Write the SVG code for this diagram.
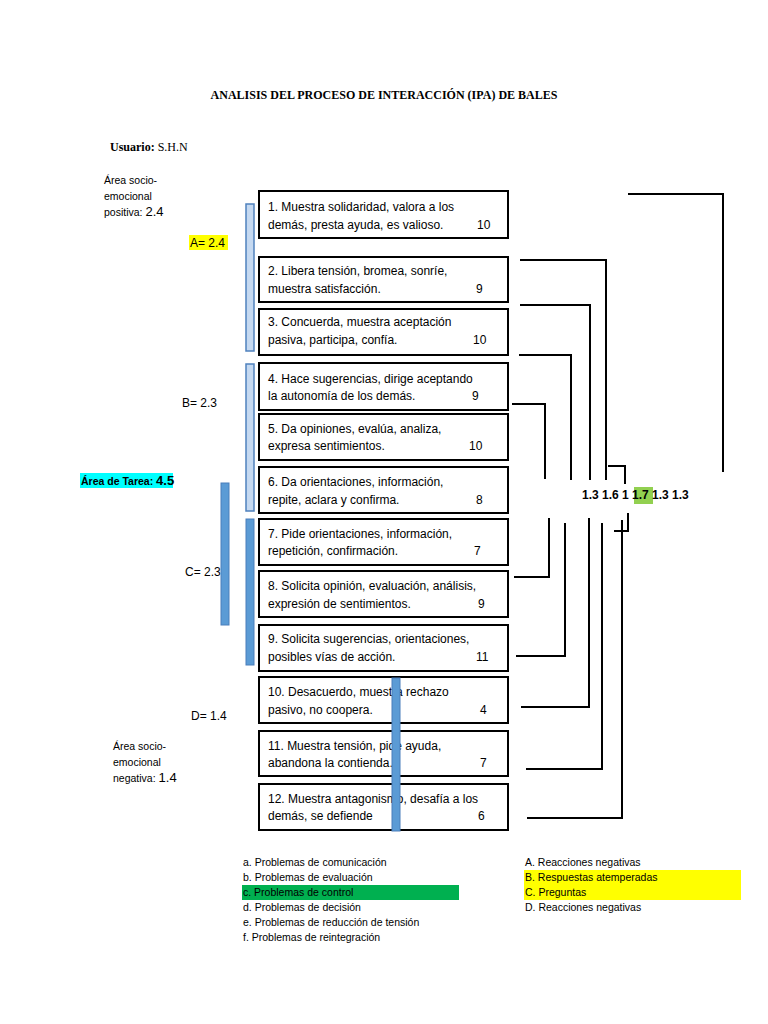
<svg xmlns="http://www.w3.org/2000/svg" width="768" height="1024" viewBox="0 0 768 1024">
<style>
text{font-family:"Liberation Sans",Arial,sans-serif;font-size:12px;fill:#000}
.t{font-family:"Liberation Serif","Times New Roman",serif}
.box{fill:#fff;stroke:#000;stroke-width:2}
.c{fill:none;stroke:#000;stroke-width:2}
.lb{fill:#c5d9f1;stroke:#4f81bd;stroke-width:1.5}
.db{fill:#5b9bd5;stroke:#4a7ebb;stroke-width:1}
.s{font-size:10.5px}
</style>
<rect width="768" height="1024" fill="#fff"/>
<text class="t" x="384" y="99" text-anchor="middle" font-size="14" font-weight="bold">ANALISIS DEL PROCESO DE INTERACCIÓN (IPA) DE BALES</text>
<text class="t" x="110" y="151" font-size="14"><tspan font-weight="bold">Usuario: </tspan>S.H.N</text>
<g id="left-labels">
<text class="s" x="104" y="184">Área socio-</text>
<text class="s" x="104" y="200">emocional</text>
<text class="s" x="104" y="216">positiva: <tspan font-size="13">2.4</tspan></text>
<rect x="189" y="235" width="39" height="15" fill="#ffff00"/>
<text x="190" y="247">A= 2.4</text>
<text x="182" y="407">B= 2.3</text>
<rect x="80" y="473" width="93" height="15" fill="#00ffff"/>
<text class="s" x="81" y="485" font-weight="bold">Área de Tarea: <tspan font-size="13">4.5</tspan></text>
<text x="185" y="576">C= 2.3</text>
<text x="191" y="720">D= 1.4</text>
<text class="s" x="113" y="750">Área socio-</text>
<text class="s" x="113" y="766">emocional</text>
<text class="s" x="113" y="782">negativa: <tspan font-size="13">1.4</tspan></text>
</g>
<g id="bars">
<rect class="lb" x="246" y="204" width="8" height="147"/>
<rect class="lb" x="246" y="364" width="8" height="147"/>
<rect class="db" x="221" y="483" width="8" height="142"/>
<rect class="db" x="246" y="519" width="8" height="146"/>
</g>
<g id="n1"><rect class="box" x="259" y="191" width="249" height="47"/><text x="268" y="211">1. Muestra solidaridad, valora a los</text><text x="268" y="229">demás, presta ayuda, es valioso.</text><text x="477" y="229">10</text></g>
<g id="n2"><rect class="box" x="259" y="257" width="249" height="45"/><text x="268" y="275">2. Libera tensión, bromea, sonríe,</text><text x="268" y="293">muestra satisfacción.</text><text x="476" y="293">9</text></g>
<g id="n3"><rect class="box" x="259" y="309" width="249" height="46"/><text x="268" y="326">3. Concuerda, muestra aceptación</text><text x="268" y="344">pasiva, participa, confía.</text><text x="473" y="344">10</text></g>
<g id="n4"><rect class="box" x="259" y="363" width="249" height="47"/><text x="268" y="383">4. Hace sugerencias, dirige aceptando</text><text x="268" y="400">la autonomía de los demás.</text><text x="472" y="400">9</text></g>
<g id="n5"><rect class="box" x="259" y="414" width="249" height="46"/><text x="268" y="433">5. Da opiniones, evalúa, analiza,</text><text x="268" y="450">expresa sentimientos.</text><text x="469" y="450">10</text></g>
<g id="n6"><rect class="box" x="259" y="467" width="249" height="46"/><text x="268" y="486">6. Da orientaciones, información,</text><text x="268" y="504">repite, aclara y confirma.</text><text x="476" y="504">8</text></g>
<g id="n7"><rect class="box" x="259" y="519" width="249" height="46"/><text x="268" y="538">7. Pide orientaciones, información,</text><text x="268" y="555">repetición, confirmación.</text><text x="474" y="555">7</text></g>
<g id="n8"><rect class="box" x="259" y="571" width="249" height="46"/><text x="268" y="590">8. Solicita opinión, evaluación, análisis,</text><text x="268" y="608">expresión de sentimientos.</text><text x="478" y="608">9</text></g>
<g id="n9"><rect class="box" x="259" y="625" width="249" height="46"/><text x="268" y="643">9. Solicita sugerencias, orientaciones,</text><text x="268" y="661">posibles vías de acción.</text><text x="476" y="661">11</text></g>
<g id="n10"><rect class="box" x="259" y="677" width="249" height="46"/><text x="268" y="696">10. Desacuerdo, muestra rechazo</text><text x="268" y="714">pasivo, no coopera.</text><text x="480" y="714">4</text></g>
<g id="n11"><rect class="box" x="259" y="731" width="249" height="45"/><text x="268" y="750">11. Muestra tensión, pide ayuda,</text><text x="268" y="767">abandona la contienda.</text><text x="480" y="767">7</text></g>
<g id="n12"><rect class="box" x="259" y="784" width="249" height="46"/><text x="268" y="803">12. Muestra antagonismo, desafía a los</text><text x="268" y="820">demás, se defiende</text><text x="478" y="820">6</text></g>
<rect class="db" x="392" y="678" width="8" height="153"/>
<g id="connectors">
<path class="c" d="M628 194H723V472"/>
<path class="c" d="M520 260H606V480"/>
<path class="c" d="M608 466H625V484"/>
<path class="c" d="M520 305H590V480"/>
<path class="c" d="M519 355H571V480"/>
<path class="c" d="M512 404H545V479"/>
<path class="c" d="M549 518V577H514"/>
<path class="c" d="M565 523V656H516"/>
<path class="c" d="M589 518V707H521"/>
<path class="c" d="M602 523V769H526"/>
<path class="c" d="M622 520V818H527"/>
<path class="c" d="M628 513V531H614"/>
</g>
<g id="values">
<rect x="634" y="487" width="19" height="17" fill="#92d050"/>
<text x="582" y="499" font-weight="bold">1.3 1.6 1 1.7 1.3 1.3</text>
</g>
<g id="legend">
<rect x="242" y="885" width="217" height="15" fill="#00b050"/>
<rect x="524" y="870" width="217" height="30" fill="#ffff00"/>
<text class="s" x="243" y="866">a. Problemas de comunicación</text>
<text class="s" x="243" y="881">b. Problemas de evaluación</text>
<text class="s" x="243" y="896">c. Problemas de control</text>
<text class="s" x="243" y="911">d. Problemas de decisión</text>
<text class="s" x="243" y="926">e. Problemas de reducción de tensión</text>
<text class="s" x="243" y="941">f. Problemas de reintegración</text>
<text class="s" x="525" y="866">A. Reacciones negativas</text>
<text class="s" x="525" y="881">B. Respuestas atemperadas</text>
<text class="s" x="525" y="896">C. Preguntas</text>
<text class="s" x="525" y="911">D. Reacciones negativas</text>
</g>
</svg>
